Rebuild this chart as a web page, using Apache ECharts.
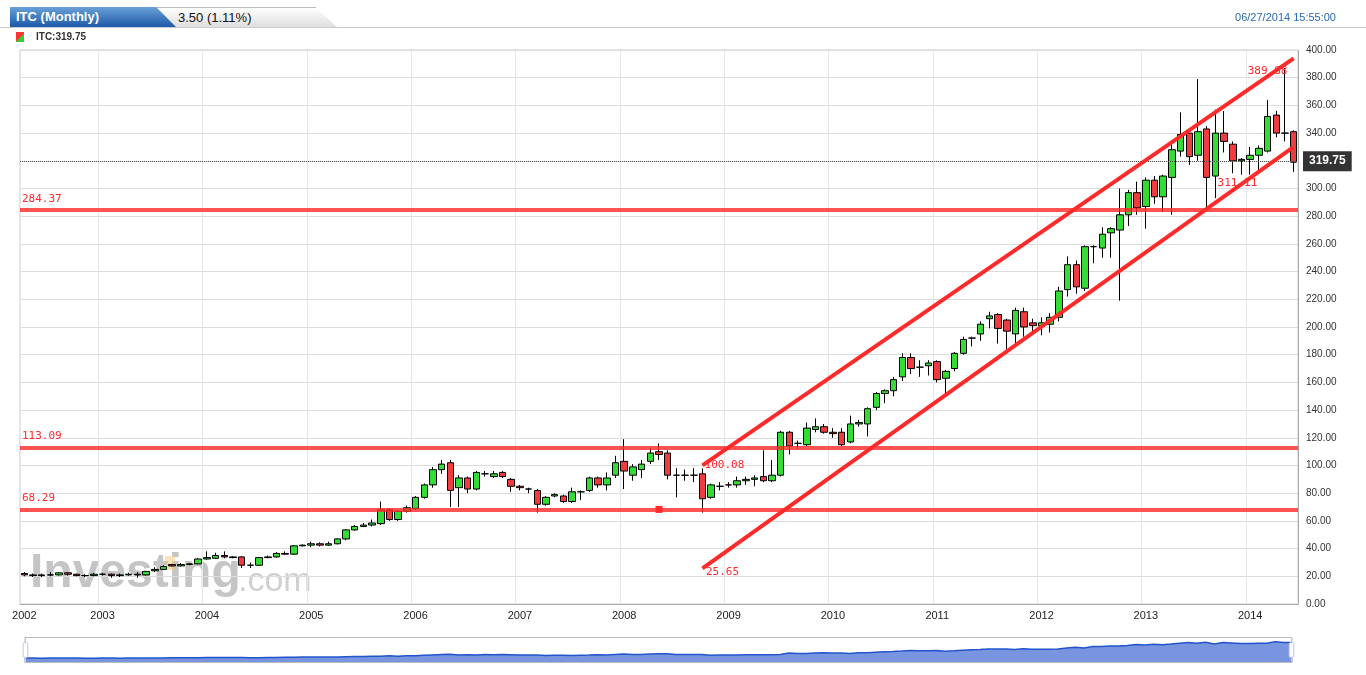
<!DOCTYPE html>
<html><head><meta charset="utf-8">
<script src="https://cdn.jsdelivr.net/npm/echarts@6/dist/echarts.min.js"></script>
<style>
body{margin:0;background:#fff;font-family:Arial,"Liberation Sans",sans-serif;}
#wrap{position:absolute;left:0;top:0;width:1366px;height:675px;}
#tab{position:absolute;left:10px;top:7px;width:160px;height:20px;background:linear-gradient(#6aa0d8,#1c5aa8);color:#fff;font-size:13px;font-weight:bold;line-height:20px;padding-left:6px;clip-path:polygon(0 0,88% 0,100% 100%,0 100%);}
#tab2{position:absolute;left:150px;top:7px;width:160px;height:20px;background:linear-gradient(#fff,#ddd);border-top:1px solid #bbb;font-size:13px;line-height:20px;padding-left:28px;color:#111;clip-path:polygon(0 0,88% 0,100% 100%,0 100%);}
#hl{position:absolute;left:0;top:27px;width:1366px;border-top:1px solid #ccc;}
#date{position:absolute;right:30px;top:11px;color:#2a6bb0;font-size:11px;}
#leg{position:absolute;left:16px;top:31px;font-size:10px;font-weight:bold;color:#333;}
#leg span{display:inline-block;width:8px;height:10px;background:linear-gradient(135deg,#f33 50%,#3c3 50%);vertical-align:middle;margin-right:12px;}
#c{position:absolute;left:0;top:0;width:1366px;height:675px;}
</style></head><body>
<div id="wrap">
<div id="c"></div>
<div id="tab2">3.50 (1.11%)</div>
<div id="tab">ITC (Monthly)</div>
<div id="hl"></div>
<div id="date">06/27/2014 15:55:00</div>
<div id="leg"><span></span>ITC:319.75</div>
</div>
<script>
const startYear = 2002, startMonth = 4;
// [open, close, low, high]
const ohlc = [
[22,21,20,23],[21,20.5,19.5,22],[20.5,21,19.5,22],[21,21,20,23],[21,22.5,20.5,23],[22.5,21.5,20.5,23],[21.5,20.5,20,22],[20.5,20.5,19.5,21.5],[20.5,21.5,20,22.5],
[21.5,21.5,20.5,22.5],[21.5,20.5,19,22],[20.5,21,19.5,22],[21,21.5,20.5,22.5],[21.5,21,19,23],[21,23.5,20.5,24],[24,25,23,26.5],[25,27,24.5,28],[28.5,27.5,27,29],[27.5,28.5,27,29.5],[28.5,29,28,29.5],[29,32.5,28.5,33],
[32.5,33.5,32,38],[33,35,32.5,37],[35,34,33,38],[34,33.5,33,34.5],[34,28,26,34.5],[28,28,26,30],[28,33.5,27.5,34],[33.5,34,33,35],[34,36.5,33.5,37.5],[36.5,36,35.5,38],[36,42,35.5,42.5],[42,42.5,41.5,43],
[42.5,43.5,41,45],[43.5,42.5,41.5,44.5],[42.5,43.5,42,45],[43.5,47,43,47.5],[47,53.5,46,54],[53.5,56,53,57],[56,57,55.5,58.5],[57,58.5,56,61],[58,68,57,74],[68,61,60,69],[61,67,60,68],[67,69.5,66,71],
[69,77,68,78],[77,86,76,87],[86,97,84,99],[97,101,94,104],[102,82,70,104],[84,91,70,93],[91,83,80,92],[83,95,82,96],[94,94,92,96],[92,94,91,96],[95,92,91,96],[90,85,81,91],
[85,84,82,86],[83,83,80,84],[82,72,66,83],[72,77,71,78],[78,79,77,80],[78,74,73,79],[74,81,73,84],[81,81,75,82],[82,91,81,92],[91,86,84,92],[86,91,82,95],[93,102,91,107],
[103,96,83,119],[93,99,89,101],[97,101,91,104],[103,109,101,113],[110,108,104,116],[109,93,90,111],[93,93,77,98],[93,93,89,97],[93,93,88,98],[94,76,66,98],[77,86,76,87],[85,85,82,88],
[86,86,84,88],[86,89,84,92],[89,90,86,92],[90,91,85,93],[92,89,88,111],[89,93,88,104],[93,124,92,125],[124,114,108,125],[116,116,112,118],[115,127,114,131],[126,128,124,134],[128,124,123,130],
[124,123,120,127],[124,115,114,127],[117,130,116,136],[130,131,128,133],[130,141,121,142],[142,152,140,153],[152,154,145,155],[154,162,150,164],[164,178,161,181],[178,170,166,181],[171,171,164,176],[172,174,165,176],
[175,162,160,176],[163,168,151,169],[170,181,168,182],[181,191,180,193],[192,192,186,193],[195,202,190,204],[206,208,199,211],[209,199,188,210],[205,197,184,206],[195,212,187,214],[211,200,193,214],[203,201,197,206],
[201,203,194,207],[202,207,196,210],[207,226,204,229],[227,245,222,251],[245,229,224,248],[228,258,226,259],[258,258,246,259],[257,267,250,272],[268,271,250,272],[270,281,219,300],[281,297,273,299],[297,286,281,305],
[287,306,271,308],[306,294,289,309],[294,309,283,310],[308,328,281,333],[327,339,323,355],[340,323,317,340],[324,341,320,379],[343,308,284,345],[309,340,293,357],[340,334,326,356],[332,320,311,334],[320,321,310,322],
[321,324,310,330],[324,329,311,331],[327,352,326,364],[353,340,337,356],[340,340,334,387],[341,319,312,342]
];
const categories = ohlc.map((d,i)=>{const m=startMonth-1+i;const y=startYear+Math.floor(m/12);const mm=(m%12)+1;return y+'-'+(mm<10?'0':'')+mm;});
const levels = [284.37, 113.09, 68.29];
const lastPrice = 319.75;
const upperChannel = [[78,100.08],[146.4,394]];
const lowerChannel = [[78,25.65],[146.4,330]];
const yTicks = {min:0,max:400,interval:20};

const isYearTick = i => i===0 || categories[i].endsWith('-01');
const red='#ff2a2a';
const chart = echarts.init(document.getElementById('c'));
chart.setOption({
  animation:false,
  grid:{left:20,right:68,top:50,bottom:71,show:true,borderColor:'#ccc'},
  xAxis:{type:'category',data:categories,boundaryGap:true,
    axisLine:{lineStyle:{color:'#aaa'}},axisTick:{show:false},
    axisLabel:{interval:(i)=>isYearTick(i),formatter:v=>v.slice(0,4),color:'#222',fontSize:11,margin:6},
    splitLine:{show:true,interval:(i)=>isYearTick(i)&&i>0,lineStyle:{color:'#e6e6e6'}}},
  yAxis:{type:'value',position:'right',min:yTicks.min,max:yTicks.max,interval:yTicks.interval,
    axisLine:{show:true,lineStyle:{color:'#aaa'}},axisTick:{show:false},
    axisLabel:{formatter:v=>v.toFixed(2),color:'#333',fontSize:10,margin:8},
    splitLine:{lineStyle:{color:'#dcdcdc'}}},
  dataZoom:[{type:'slider',xAxisIndex:0,start:0,end:100,left:22,right:76,bottom:12,height:26,
    showDetail:false,borderColor:'#bbb',fillerColor:'rgba(255,255,255,0)',
    dataBackground:{lineStyle:{color:'#2255cc',width:1.5,opacity:1},areaStyle:{color:'#7a95e0',opacity:1}},
    selectedDataBackground:{lineStyle:{color:'#2255cc',width:1.5,opacity:1},areaStyle:{color:'#7a95e0',opacity:1}},
    handleSize:'90%',moveHandleSize:0}],
  graphic:[{type:'text',left:30,top:550,z:0,style:{text:'Investing',font:'bold 48px Arial',fill:'rgba(150,150,150,0.55)'}},
           {type:'text',left:238,top:565,z:0,style:{text:'.com',font:'34px Arial',fill:'rgba(150,150,150,0.45)'}},
           {type:'rect',left:165,top:556,z:0,shape:{width:10,height:14},style:{fill:'rgba(250,200,120,0.5)'}}],
  series:[{
    type:'candlestick',data:ohlc,barWidth:7,
    itemStyle:{color:'#33dd33',color0:'#f03c3c',borderColor:'#000',borderColor0:'#000',borderWidth:1},
    markLine:{symbol:'none',silent:true,animation:false,
      data:[
        ...levels.map(v=>({yAxis:v,lineStyle:{color:'rgba(255,40,40,0.8)',width:4,type:'solid'},
          label:{show:true,position:'insideStartTop',formatter:v.toFixed(2),color:red,fontSize:11,fontFamily:'DejaVu Sans Mono',distance:[2,6]}})),
        {yAxis:lastPrice,lineStyle:{color:'#555',width:1,type:'dotted'},
          label:{show:true,position:'end',formatter:'319.75',color:'#fff',backgroundColor:'#333',padding:[4,6],fontWeight:'bold',fontSize:12}},
        [{coord:upperChannel[0],lineStyle:{color:red,width:4,type:'solid'},label:{show:false}},{coord:upperChannel[1]}],
        [{coord:lowerChannel[0],lineStyle:{color:red,width:4,type:'solid'},label:{show:false}},{coord:lowerChannel[1]}]
      ]},
    markPoint:{silent:true,animation:false,data:[
      {coord:[78,100.08],symbolSize:0,label:{show:true,formatter:'100.08',color:red,fontSize:11,fontFamily:'DejaVu Sans Mono',offset:[22,0]}},
      {coord:[78,25.65],symbolSize:0,label:{show:true,formatter:'25.65',color:red,fontSize:11,fontFamily:'DejaVu Sans Mono',offset:[20,4]}},
      {coord:[143,383],symbolSize:0,label:{show:true,formatter:'389.88',color:red,fontSize:11,fontFamily:'DejaVu Sans Mono',offset:[0,-2]}},
      {coord:[137,304],symbolSize:0,label:{show:true,formatter:'311.11',color:red,fontSize:11,fontFamily:'DejaVu Sans Mono',offset:[22,0]}},
      {coord:[73,68.29],symbol:'rect',symbolSize:7,itemStyle:{color:red},label:{show:false}}
    ]}
  }]
});
</script></body></html>
